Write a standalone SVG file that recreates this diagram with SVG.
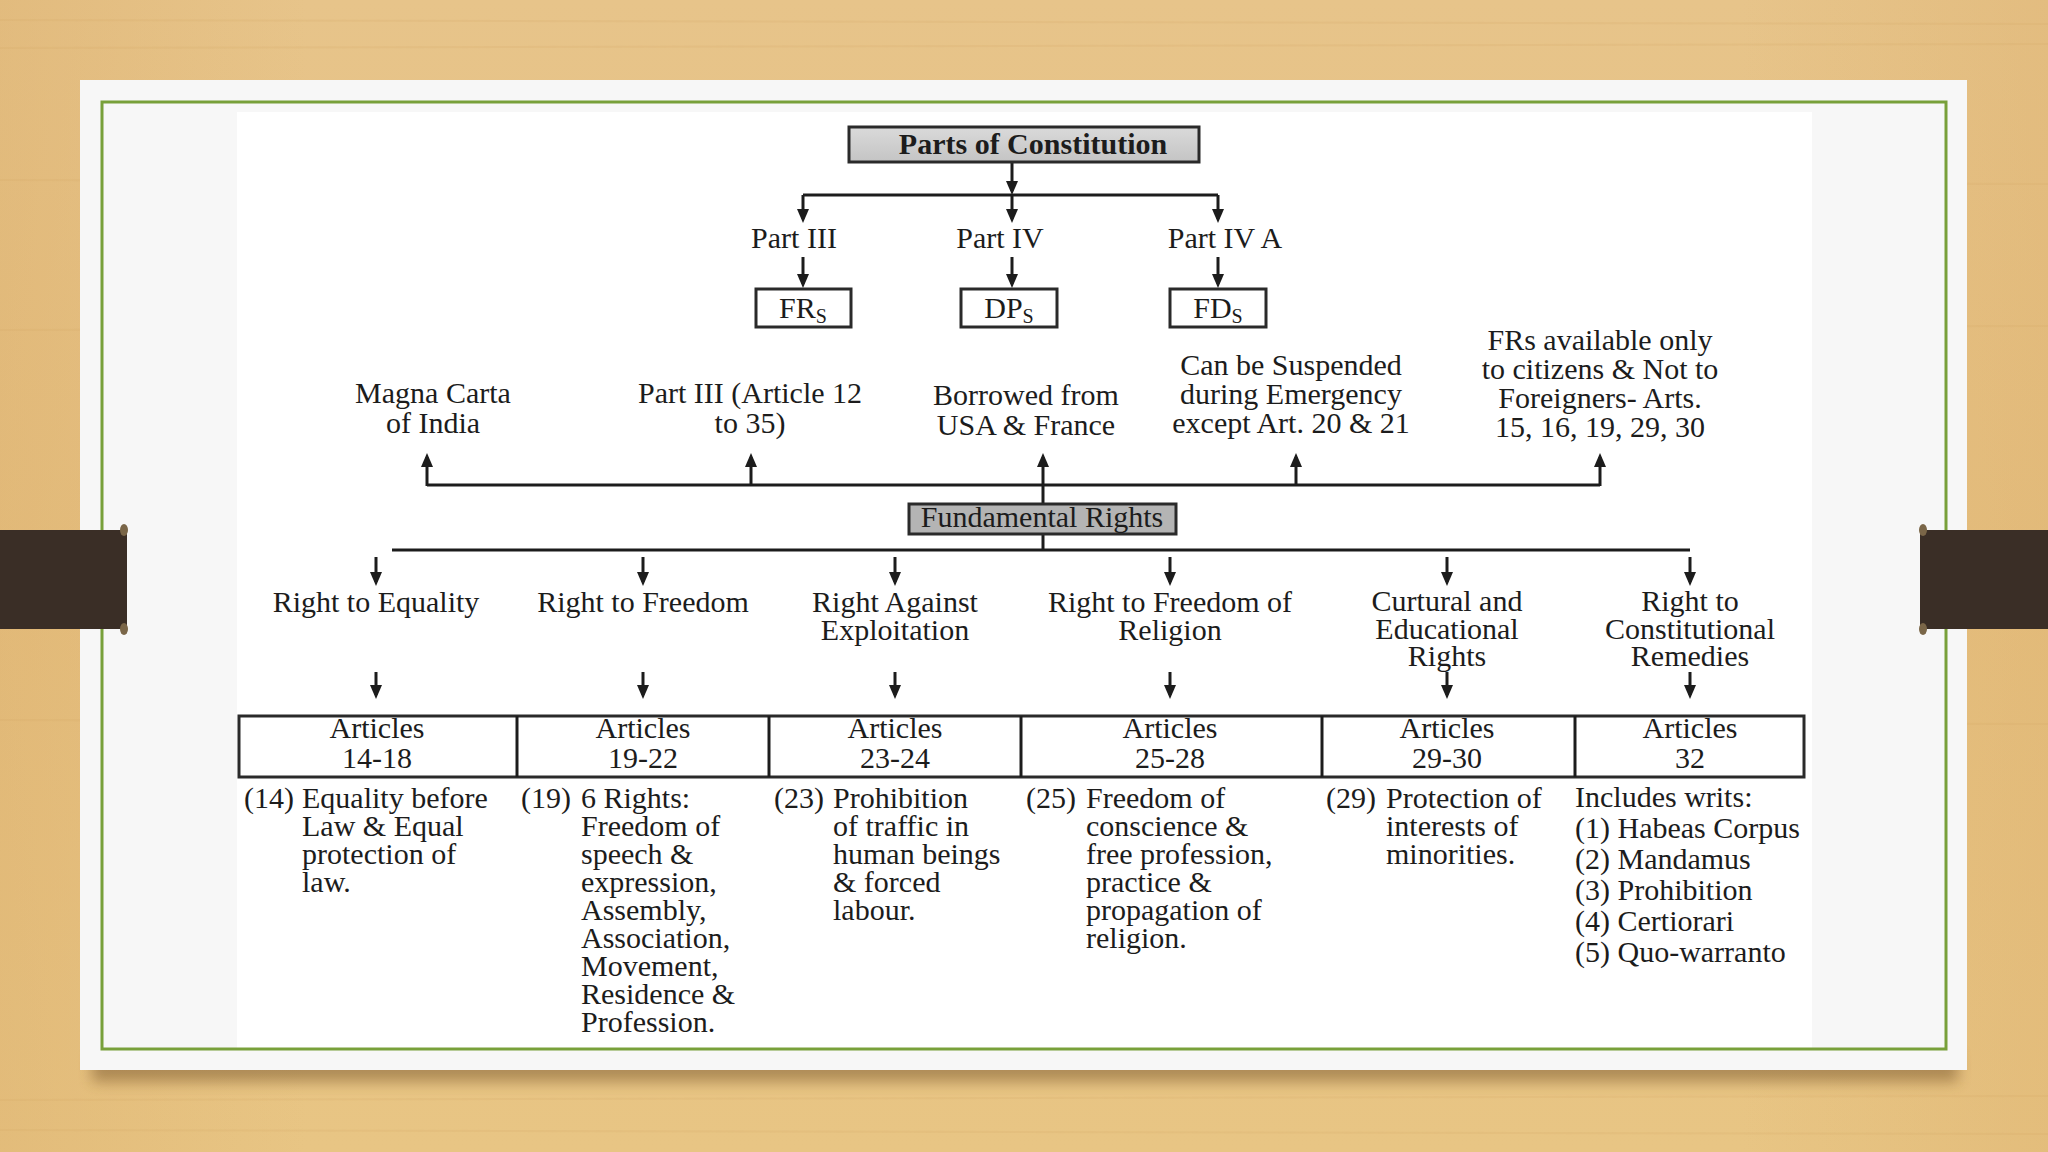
<svg xmlns="http://www.w3.org/2000/svg" width="2048" height="1152" viewBox="0 0 2048 1152">
  <defs>
    <linearGradient id="wood" x1="0" y1="0" x2="0" y2="1">
      <stop offset="0" stop-color="#e7c48a"/>
      <stop offset="0.5" stop-color="#e6c080"/>
      <stop offset="1" stop-color="#e8c584"/>
    </linearGradient>
    <linearGradient id="woodH" x1="0" y1="0" x2="1" y2="0">
      <stop offset="0" stop-color="#d9ab68" stop-opacity="0.35"/>
      <stop offset="0.15" stop-color="#d9ab68" stop-opacity="0"/>
      <stop offset="0.85" stop-color="#d9ab68" stop-opacity="0"/>
      <stop offset="1" stop-color="#d9ab68" stop-opacity="0.3"/>
    </linearGradient>
    <linearGradient id="titleFill" x1="0" y1="0" x2="0" y2="1">
      <stop offset="0" stop-color="#dadada"/>
      <stop offset="1" stop-color="#c4c4c4"/>
    </linearGradient>
    <filter id="blur" x="-10%" y="-50%" width="120%" height="200%">
      <feGaussianBlur stdDeviation="7"/>
    </filter>
    <marker id="arr" viewBox="0 0 14 12" refX="10" refY="6" markerWidth="14" markerHeight="12" markerUnits="userSpaceOnUse" orient="auto">
      <path d="M0,0 L14,6 L0,12 z" fill="#1c1c1c"/>
    </marker>
  </defs>
  <style>
    text { font-family: "Liberation Serif", "Times New Roman", serif; fill: #1c1c1c; }
    .t { font-size: 30px; text-anchor: middle; }
    .d { font-size: 30px; }
    .b { font-size: 30px; font-weight: bold; text-anchor: middle; }
    .ln { stroke: #1c1c1c; stroke-width: 3; fill: none; }
    .ar { stroke: #1c1c1c; stroke-width: 3; fill: none; marker-end: url(#arr); }
    .box { fill: #ffffff; stroke: #2a2a2a; stroke-width: 3; }
    .bar { fill: #3a2e26; }
    .knob { fill: #7a6648; }
  </style>

  <!-- background -->
  <rect x="0" y="0" width="2048" height="1152" fill="url(#wood)"/>
  <rect x="0" y="0" width="2048" height="1152" fill="url(#woodH)"/>
  <g stroke="#d2a562" stroke-opacity="0.18" stroke-width="2">
    <line x1="0" y1="20" x2="2048" y2="24"/>
    <line x1="0" y1="48" x2="2048" y2="44"/>
    <line x1="0" y1="180" x2="2048" y2="184"/>
    <line x1="0" y1="330" x2="2048" y2="326"/>
    <line x1="0" y1="720" x2="2048" y2="724"/>
    <line x1="0" y1="1100" x2="2048" y2="1096"/>
    <line x1="0" y1="1130" x2="2048" y2="1134"/>
  </g>

  <!-- card -->
  <rect x="92" y="1052" width="1866" height="30" fill="#6b4a22" opacity="0.45" filter="url(#blur)"/>
  <rect x="80" y="80" width="1887" height="990" fill="#f7f7f7"/>
  <rect x="237" y="112" width="1575" height="936" fill="#ffffff"/>
  <rect x="102" y="102" width="1844" height="947" fill="none" stroke="#78a03a" stroke-width="3"/>

  <!-- side bars -->
  <rect class="bar" x="0" y="530" width="127" height="99"/>
  <ellipse class="knob" cx="124" cy="530" rx="4" ry="6"/>
  <ellipse class="knob" cx="124" cy="629" rx="4" ry="6"/>
  <rect class="bar" x="1920" y="530" width="128" height="99"/>
  <ellipse class="knob" cx="1923" cy="530" rx="4" ry="6"/>
  <ellipse class="knob" cx="1923" cy="629" rx="4" ry="6"/>

  <!-- connectors -->
  <g id="connectors">
    <line class="ar" x1="1012" y1="162" x2="1012" y2="191"/>
    <line class="ln" x1="803" y1="195" x2="1218" y2="195"/>
    <line class="ar" x1="803" y1="195" x2="803" y2="219"/>
    <line class="ar" x1="1012" y1="195" x2="1012" y2="219"/>
    <line class="ar" x1="1218" y1="195" x2="1218" y2="219"/>
    <line class="ar" x1="803" y1="257" x2="803" y2="284"/>
    <line class="ar" x1="1012" y1="257" x2="1012" y2="284"/>
    <line class="ar" x1="1218" y1="257" x2="1218" y2="284"/>

    <line class="ar" x1="1043" y1="503" x2="1043" y2="457"/>
    <line class="ln" x1="427" y1="485" x2="1600" y2="485"/>
    <line class="ar" x1="427" y1="486" x2="427" y2="457"/>
    <line class="ar" x1="751" y1="486" x2="751" y2="457"/>
    <line class="ar" x1="1296" y1="486" x2="1296" y2="457"/>
    <line class="ar" x1="1600" y1="486" x2="1600" y2="457"/>

    <line class="ln" x1="1043" y1="534" x2="1043" y2="550"/>
    <line class="ln" x1="392" y1="550" x2="1690" y2="550"/>
    <line class="ar" x1="376" y1="557" x2="376" y2="582"/>
    <line class="ar" x1="643" y1="557" x2="643" y2="582"/>
    <line class="ar" x1="895" y1="557" x2="895" y2="582"/>
    <line class="ar" x1="1170" y1="557" x2="1170" y2="582"/>
    <line class="ar" x1="1447" y1="557" x2="1447" y2="582"/>
    <line class="ar" x1="1690" y1="557" x2="1690" y2="582"/>

    <line class="ar" x1="376" y1="672" x2="376" y2="695"/>
    <line class="ar" x1="643" y1="672" x2="643" y2="695"/>
    <line class="ar" x1="895" y1="672" x2="895" y2="695"/>
    <line class="ar" x1="1170" y1="672" x2="1170" y2="695"/>
    <line class="ar" x1="1447" y1="672" x2="1447" y2="695"/>
    <line class="ar" x1="1690" y1="672" x2="1690" y2="695"/>
  </g>

  <!-- top part -->
  <g id="parts-of-constitution">
    <rect x="849" y="127" width="350" height="35" fill="url(#titleFill)" stroke="#2a2a2a" stroke-width="3"/>
    <text class="b" x="1033" y="154">Parts of Constitution</text>
  </g>
  <g id="part-iii"><text class="t" x="794" y="248">Part III</text></g>
  <g id="part-iv"><text class="t" x="1000" y="248">Part IV</text></g>
  <g id="part-iva"><text class="t" x="1225" y="248">Part IV A</text></g>
  <g id="frs">
    <rect class="box" x="756" y="289" width="95" height="38"/>
    <text class="t" x="803" y="318">FR<tspan font-size="20" dy="5">S</tspan></text>
  </g>
  <g id="dps">
    <rect class="box" x="961" y="289" width="96" height="38"/>
    <text class="t" x="1009" y="318">DP<tspan font-size="20" dy="5">S</tspan></text>
  </g>
  <g id="fds">
    <rect class="box" x="1170" y="289" width="96" height="38"/>
    <text class="t" x="1218" y="318">FD<tspan font-size="20" dy="5">S</tspan></text>
  </g>

  <!-- features -->
  <g id="magna-carta"><text class="t" x="433" y="403">Magna Carta<tspan x="433" dy="30">of India</tspan></text></g>
  <g id="part-iii-articles"><text class="t" x="750" y="403">Part III (Article 12<tspan x="750" dy="30">to 35)</tspan></text></g>
  <g id="borrowed"><text class="t" x="1026" y="405">Borrowed from<tspan x="1026" dy="30">USA &amp; France</tspan></text></g>
  <g id="suspended"><text class="t" x="1291" y="375">Can be Suspended<tspan x="1291" dy="29">during Emergency</tspan><tspan x="1291" dy="29">except Art. 20 &amp; 21</tspan></text></g>
  <g id="citizens"><text class="t" x="1600" y="350">FRs available only<tspan x="1600" dy="29">to citizens &amp; Not to</tspan><tspan x="1600" dy="29">Foreigners- Arts.</tspan><tspan x="1600" dy="29">15, 16, 19, 29, 30</tspan></text></g>

  <g id="fundamental-rights">
    <rect x="909" y="504" width="267" height="30" fill="#b4b4b4" stroke="#2a2a2a" stroke-width="3"/>
    <text class="t" x="1042" y="527">Fundamental Rights</text>
  </g>

  <!-- rights -->
  <g id="right-equality"><text class="t" x="376" y="612">Right to Equality</text></g>
  <g id="right-freedom"><text class="t" x="643" y="612">Right to Freedom</text></g>
  <g id="right-exploitation"><text class="t" x="895" y="612">Right Against<tspan x="895" dy="27.5">Exploitation</tspan></text></g>
  <g id="right-religion"><text class="t" x="1170" y="612">Right to Freedom of<tspan x="1170" dy="27.5">Religion</tspan></text></g>
  <g id="right-cultural"><text class="t" x="1447" y="611">Curtural and<tspan x="1447" dy="27.5">Educational</tspan><tspan x="1447" dy="27.5">Rights</tspan></text></g>
  <g id="right-remedies"><text class="t" x="1690" y="611">Right to<tspan x="1690" dy="27.5">Constitutional</tspan><tspan x="1690" dy="27.5">Remedies</tspan></text></g>

  <!-- articles table -->
  <g id="articles-table">
    <rect x="239" y="716" width="1565" height="61" fill="#ffffff" stroke="#2a2a2a" stroke-width="3"/>
    <line class="ln" x1="517" y1="716" x2="517" y2="777"/>
    <line class="ln" x1="769" y1="716" x2="769" y2="777"/>
    <line class="ln" x1="1021" y1="716" x2="1021" y2="777"/>
    <line class="ln" x1="1322" y1="716" x2="1322" y2="777"/>
    <line class="ln" x1="1575" y1="716" x2="1575" y2="777"/>
    <text class="t" x="377" y="738">Articles<tspan x="377" dy="30">14-18</tspan></text>
    <text class="t" x="643" y="738">Articles<tspan x="643" dy="30">19-22</tspan></text>
    <text class="t" x="895" y="738">Articles<tspan x="895" dy="30">23-24</tspan></text>
    <text class="t" x="1170" y="738">Articles<tspan x="1170" dy="30">25-28</tspan></text>
    <text class="t" x="1447" y="738">Articles<tspan x="1447" dy="30">29-30</tspan></text>
    <text class="t" x="1690" y="738">Articles<tspan x="1690" dy="30">32</tspan></text>
  </g>

  <!-- descriptions -->
  <g id="desc-equality">
    <text class="d" x="244" y="808">(14)</text>
    <text class="d" x="302" y="808">Equality before<tspan x="302" dy="28">Law &amp; Equal</tspan><tspan x="302" dy="28">protection of</tspan><tspan x="302" dy="28">law.</tspan></text>
  </g>
  <g id="desc-freedom">
    <text class="d" x="521" y="808">(19)</text>
    <text class="d" x="581" y="808">6 Rights:<tspan x="581" dy="28">Freedom of</tspan><tspan x="581" dy="28">speech &amp;</tspan><tspan x="581" dy="28">expression,</tspan><tspan x="581" dy="28">Assembly,</tspan><tspan x="581" dy="28">Association,</tspan><tspan x="581" dy="28">Movement,</tspan><tspan x="581" dy="28">Residence &amp;</tspan><tspan x="581" dy="28">Profession.</tspan></text>
  </g>
  <g id="desc-exploitation">
    <text class="d" x="774" y="808">(23)</text>
    <text class="d" x="833" y="808">Prohibition<tspan x="833" dy="28">of traffic in</tspan><tspan x="833" dy="28">human beings</tspan><tspan x="833" dy="28">&amp; forced</tspan><tspan x="833" dy="28">labour.</tspan></text>
  </g>
  <g id="desc-religion">
    <text class="d" x="1026" y="808">(25)</text>
    <text class="d" x="1086" y="808">Freedom of<tspan x="1086" dy="28">conscience &amp;</tspan><tspan x="1086" dy="28">free profession,</tspan><tspan x="1086" dy="28">practice &amp;</tspan><tspan x="1086" dy="28">propagation of</tspan><tspan x="1086" dy="28">religion.</tspan></text>
  </g>
  <g id="desc-cultural">
    <text class="d" x="1326" y="808">(29)</text>
    <text class="d" x="1386" y="808">Protection of<tspan x="1386" dy="28">interests of</tspan><tspan x="1386" dy="28">minorities.</tspan></text>
  </g>
  <g id="desc-remedies">
    <text class="d" x="1575" y="807">Includes writs:<tspan x="1575" dy="31">(1) Habeas Corpus</tspan><tspan x="1575" dy="31">(2) Mandamus</tspan><tspan x="1575" dy="31">(3) Prohibition</tspan><tspan x="1575" dy="31">(4) Certiorari</tspan><tspan x="1575" dy="31">(5) Quo-warranto</tspan></text>
  </g>
</svg>
